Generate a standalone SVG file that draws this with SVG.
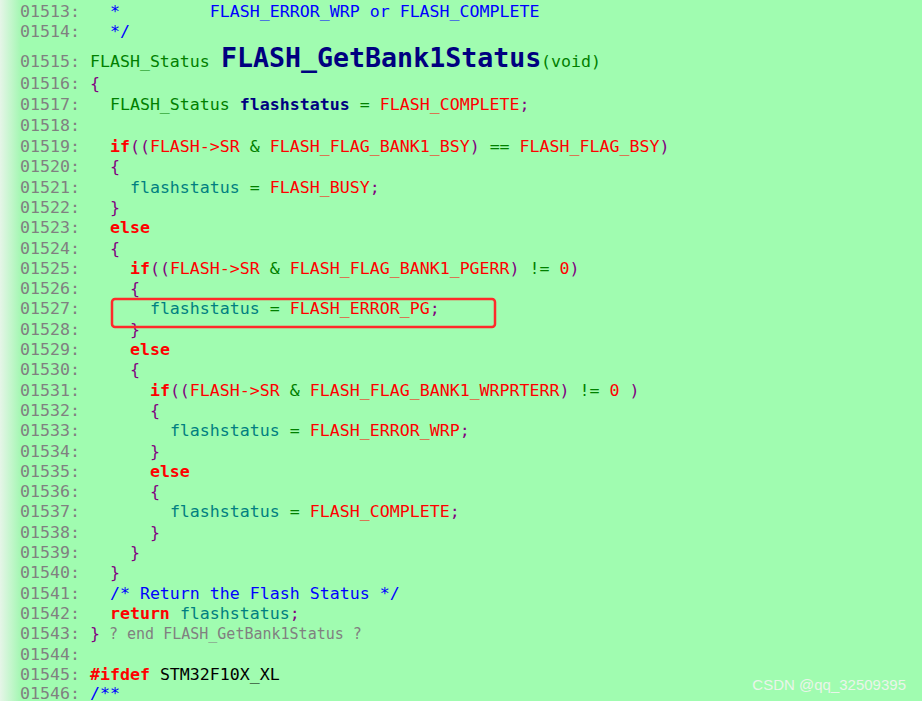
<svg xmlns="http://www.w3.org/2000/svg" width="922" height="701" viewBox="0 0 922 701">
<defs>
<linearGradient id="lg" x1="0" x2="1" y1="0" y2="0"><stop offset="0" stop-color="#e6f5e8"/><stop offset="1" stop-color="#a6f7b4"/></linearGradient>
<style>
text{font-family:"DejaVu Sans Mono","Liberation Mono",monospace;font-size:16.6px;white-space:pre;fill:#000}
.n{fill:#808080}.g{fill:#008000}.t{fill:#008080}.r{fill:#ff0000}.k{fill:#ff0000;font-weight:bold}
.p{fill:#800080}.c{fill:#0000ff}.b{fill:#000080;font-weight:bold}.gy{fill:#808080}
</style>
</defs>
<rect width="922" height="701" fill="#a0fcb0"/>
<rect width="20" height="701" fill="url(#lg)"/>
<g id="code" xml:space="preserve">
<text x="20" y="17"><tspan class="n">01513: </tspan><tspan class="c">  *         FLASH_ERROR_WRP or FLASH_COMPLETE</tspan></text>
<text x="20" y="37"><tspan class="n">01514: </tspan><tspan class="c">  */</tspan></text>
<text x="20" y="67"><tspan class="n">01515: </tspan><tspan class="g">FLASH_Status </tspan></text>
<text x="221" y="67" style="font-size:26.6px;font-weight:bold;fill:#000080">FLASH_GetBank1Status</text>
<text x="541" y="67" class="g">(void)</text>
<text x="20" y="89"><tspan class="n">01516: </tspan><tspan class="p">{</tspan></text>
<text x="20" y="109.5"><tspan class="n">01517: </tspan>  <tspan class="g">FLASH_Status</tspan> <tspan class="b">flashstatus</tspan> <tspan class="g">=</tspan> <tspan class="r">FLASH_COMPLETE</tspan><tspan class="p">;</tspan></text>
<text x="20" y="130.5"><tspan class="n">01518:</tspan></text>
<text x="20" y="152"><tspan class="n">01519: </tspan>  <tspan class="k">if</tspan><tspan class="p">((</tspan><tspan class="r">FLASH-&gt;SR</tspan> <tspan class="g">&amp;</tspan> <tspan class="r">FLASH_FLAG_BANK1_BSY</tspan><tspan class="p">)</tspan> <tspan class="g">==</tspan> <tspan class="r">FLASH_FLAG_BSY</tspan><tspan class="p">)</tspan></text>
<text x="20" y="172.3"><tspan class="n">01520: </tspan>  <tspan class="p">{</tspan></text>
<text x="20" y="192.6"><tspan class="n">01521: </tspan>    <tspan class="t">flashstatus</tspan> <tspan class="g">=</tspan> <tspan class="r">FLASH_BUSY</tspan><tspan class="p">;</tspan></text>
<text x="20" y="212.9"><tspan class="n">01522: </tspan>  <tspan class="p">}</tspan></text>
<text x="20" y="233.2"><tspan class="n">01523: </tspan>  <tspan class="k">else</tspan></text>
<text x="20" y="253.5"><tspan class="n">01524: </tspan>  <tspan class="p">{</tspan></text>
<text x="20" y="273.8"><tspan class="n">01525: </tspan>    <tspan class="k">if</tspan><tspan class="p">((</tspan><tspan class="r">FLASH-&gt;SR</tspan> <tspan class="g">&amp;</tspan> <tspan class="r">FLASH_FLAG_BANK1_PGERR</tspan><tspan class="p">)</tspan> <tspan class="g">!=</tspan> <tspan class="r">0</tspan><tspan class="p">)</tspan></text>
<text x="20" y="294.1"><tspan class="n">01526: </tspan>    <tspan class="p">{</tspan></text>
<text x="20" y="314.4"><tspan class="n">01527: </tspan>      <tspan class="t">flashstatus</tspan> <tspan class="g">=</tspan> <tspan class="r">FLASH_ERROR_PG</tspan><tspan class="p">;</tspan></text>
<text x="20" y="334.7"><tspan class="n">01528: </tspan>    <tspan class="p">}</tspan></text>
<text x="20" y="355"><tspan class="n">01529: </tspan>    <tspan class="k">else</tspan></text>
<text x="20" y="375.3"><tspan class="n">01530: </tspan>    <tspan class="p">{</tspan></text>
<text x="20" y="395.6"><tspan class="n">01531: </tspan>      <tspan class="k">if</tspan><tspan class="p">((</tspan><tspan class="r">FLASH-&gt;SR</tspan> <tspan class="g">&amp;</tspan> <tspan class="r">FLASH_FLAG_BANK1_WRPRTERR</tspan><tspan class="p">)</tspan> <tspan class="g">!=</tspan> <tspan class="r">0</tspan> <tspan class="p">)</tspan></text>
<text x="20" y="415.9"><tspan class="n">01532: </tspan>      <tspan class="p">{</tspan></text>
<text x="20" y="436.2"><tspan class="n">01533: </tspan>        <tspan class="t">flashstatus</tspan> <tspan class="g">=</tspan> <tspan class="r">FLASH_ERROR_WRP</tspan><tspan class="p">;</tspan></text>
<text x="20" y="456.5"><tspan class="n">01534: </tspan>      <tspan class="p">}</tspan></text>
<text x="20" y="476.8"><tspan class="n">01535: </tspan>      <tspan class="k">else</tspan></text>
<text x="20" y="497.1"><tspan class="n">01536: </tspan>      <tspan class="p">{</tspan></text>
<text x="20" y="517.4"><tspan class="n">01537: </tspan>        <tspan class="t">flashstatus</tspan> <tspan class="g">=</tspan> <tspan class="r">FLASH_COMPLETE</tspan><tspan class="p">;</tspan></text>
<text x="20" y="537.7"><tspan class="n">01538: </tspan>      <tspan class="p">}</tspan></text>
<text x="20" y="558"><tspan class="n">01539: </tspan>    <tspan class="p">}</tspan></text>
<text x="20" y="578.3"><tspan class="n">01540: </tspan>  <tspan class="p">}</tspan></text>
<text x="20" y="598.6"><tspan class="n">01541: </tspan>  <tspan class="c">/* Return the Flash Status */</tspan></text>
<text x="20" y="618.9"><tspan class="n">01542: </tspan>  <tspan class="k">return</tspan> <tspan class="t">flashstatus</tspan><tspan class="p">;</tspan></text>
<text x="20" y="639.2"><tspan class="n">01543: </tspan><tspan class="p">}</tspan><tspan class="gy" style="font-size:15px"> ? end FLASH_GetBank1Status ?</tspan></text>
<text x="20" y="659.5"><tspan class="n">01544:</tspan></text>
<text x="20" y="679.8"><tspan class="n">01545: </tspan><tspan class="k">#ifdef</tspan> STM32F10X_XL</text>
<text x="20" y="699"><tspan class="n">01546: </tspan><tspan class="c">/**</tspan></text>
</g>
<g id="highlight"><rect x="112" y="299" width="383" height="28" rx="3" fill="none" stroke="#ff2a2a" stroke-width="2.5"/></g>
<text x="906" y="690" text-anchor="end" style="font-family:'Liberation Sans',sans-serif;font-size:15px;fill:#eaf5ea">CSDN @qq_32509395</text>
</svg>
